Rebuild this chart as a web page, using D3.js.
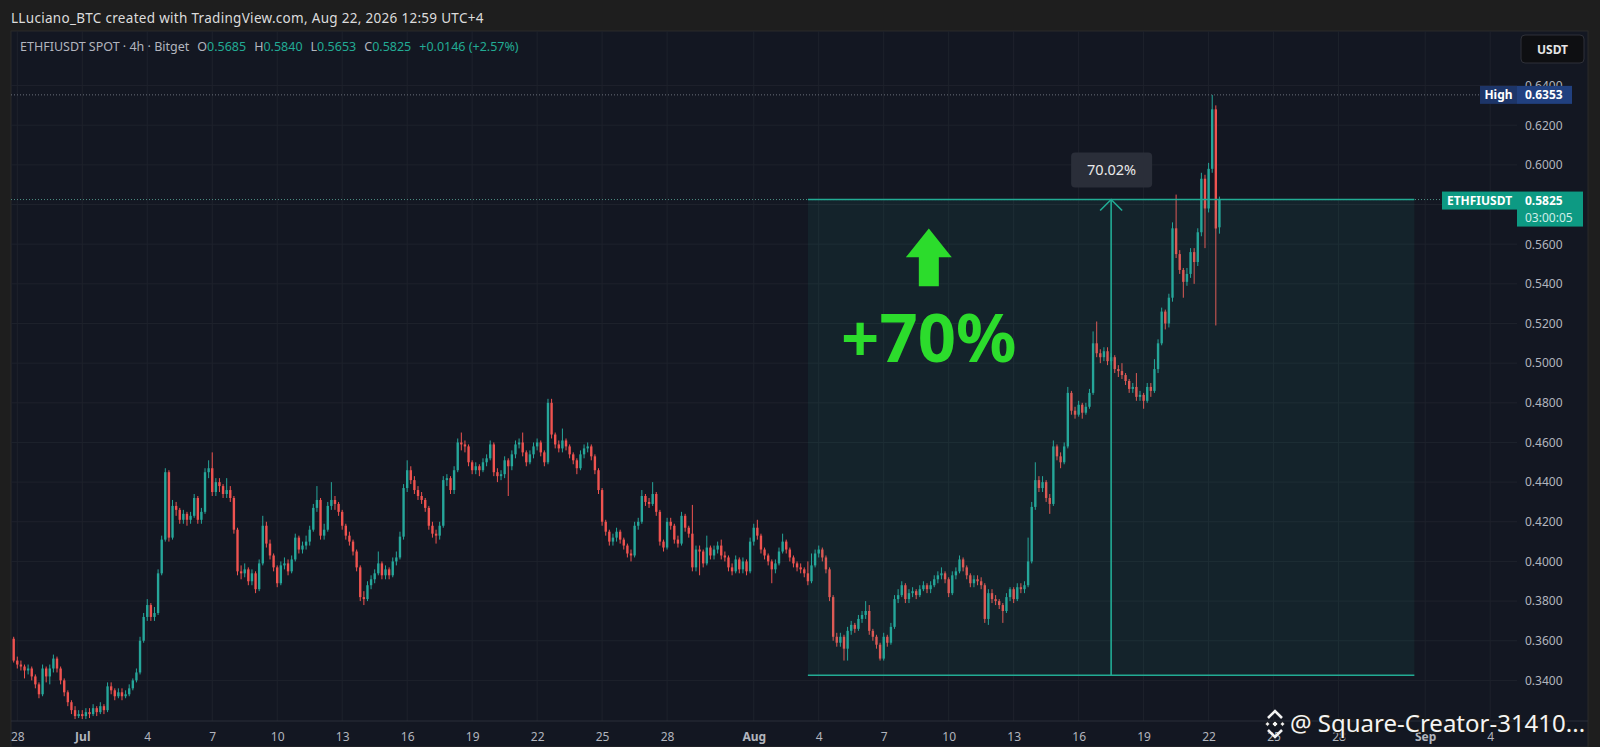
<!DOCTYPE html>
<html><head><meta charset="utf-8">
<script src="https://cdn.jsdelivr.net/npm/d3@7"></script>
<style>html,body{margin:0;padding:0;background:#1e1e1e;overflow:hidden}svg{display:block}</style>
</head><body>
<svg id="c" width="1600" height="747"></svg>
<script>
// ---------- DATA ----------
const symbolTitle = "ETHFIUSDT SPOT · 4h · Bitget";
const headerText = "LLuciano_BTC created with TradingView.com, Aug 22, 2026 12:59 UTC+4";
const firstCandle = Date.UTC(2026,5,27,20);   // chart-local time of first visible 4h candle
const candleHours = 4;
const opens = [.361,
.350,.348,.347,.345,.346,.342, .338,.333,.346,.342,.346,.351, .346,.340,.334,.329,.325,.322,
.323,.322,.324,.323,.326,.324, .327,.325,.337,.335,.332,.334, .332,.333,.336,.340,.344,.360,
.372,.378,.372,.374,.394,.411, .445,.412,.428,.426,.421,.424, .421,.423,.432,.421,.425,.445,
.447,.435,.440,.438,.434,.436, .432,.416,.395,.394,.396,.390, .394,.386,.399,.418,.409,.403,
.397,.389,.398,.399,.395,.401, .412,.406,.408,.410,.416,.427, .431,.413,.416,.428,.431,.429,
.425,.418,.413,.410,.405,.397, .382,.381,.388,.391,.394,.399, .393,.396,.393,.400,.402,.4125,
.437,.446,.441,.436,.433,.431, .427,.418,.414,.413,.418,.441, .442,.436,.446,.460,.459,.458,
.450,.446,.448,.446,.450,.452, .459,.445,.443,.444,.451,.448, .454,.459,.460,.455,.450,.454,
.458,.460,.455,.450,.480,.464, .459,.457,.461,.458,.454,.451, .447,.454,.457,.458,.453,.446,
.436,.420,.415,.410,.412,.415, .411,.408,.404,.403,.418,.420, .433,.430,.429,.434,.425,.410,
.407,.420,.418,.411,.409,.423, .417,.414,.397,.406,.405,.399, .407,.403,.406,.408,.403,.402,
.397,.395,.401,.396,.400,.395, .410,.417,.413,.406,.403,.400, .396,.399,.405,.410,.406,.402,
.399,.397,.396,.394,.390,.398, .404,.406,.402,.396,.382,.362, .359,.362,.356,.365,.368,.366,
.371,.373,.375,.365,.362,.358, .351,.362,.359,.367,.381,.383, .388,.381,.384,.385,.383,.386,
.388,.386,.388,.391,.393,.394, .391,.384,.393,.395,.401,.397, .393,.389,.391,.390,.388,.371,
.384,.381,.380,.378,.375,.382, .386,.381,.387,.386,.388,.400, .4275,.441,.437,.440,.432,.429,
.458,.453,.450,.458,.485,.476, .474,.479,.475,.478,.485,.510, .505,.503,.506,.501,.503,.497,
.496,.494,.491,.487,.488,.483, .484,.481,.488,.486,.497,.510, .526,.520,.533,.568,.555,.547,
.541,.545,.556,.551,.566,.593, .578,.598,.628,.5685];
const highs = [.362,
.352,.350,.348,.348,.347,.343, .339,.348,.347,.348,.353,.352, .347,.341,.335,.330,.327,.325,
.325,.326,.326,.328,.327,.329, .328,.339,.339,.336,.336,.336, .335,.338,.341,.346,.362,.374,
.381,.379,.377,.396,.413,.447, .446,.431,.430,.427,.426,.425, .425,.434,.433,.427,.447,.451,
.455,.442,.442,.439,.442,.438, .433,.417,.398,.399,.397,.396, .395,.401,.423,.420,.411,.404,
.398,.400,.402,.401,.403,.414, .413,.410,.413,.418,.429,.438, .432,.419,.430,.440,.433,.430,
.426,.419,.415,.411,.406,.398, .385,.390,.393,.396,.405,.400, .398,.397,.402,.405,.415,.439,
.451,.448,.443,.438,.435,.432, .428,.420,.416,.420,.443,.444, .443,.448,.462,.465,.461,.459,
.451,.450,.449,.452,.454,.461, .460,.447,.446,.453,.452,.456, .461,.462,.465,.456,.456,.460,
.462,.461,.456,.482,.482,.465, .461,.467,.462,.459,.455,.452, .456,.459,.460,.459,.454,.447,
.437,.421,.416,.414,.417,.416, .412,.409,.406,.420,.422,.436, .434,.432,.440,.435,.426,.411,
.422,.422,.419,.413,.425,.424, .418,.4285,.408,.408,.406,.413, .408,.408,.410,.411,.405,.403,
.399,.403,.402,.402,.401,.412, .419,.421,.414,.407,.404,.401, .401,.407,.414,.411,.407,.403,
.400,.399,.397,.400,.404,.406, .408,.407,.403,.397,.383,.364, .364,.363,.367,.370,.369,.373,
.375,.380,.378,.366,.363,.359, .364,.363,.369,.383,.386,.390, .389,.386,.387,.386,.388,.390,
.389,.390,.393,.395,.397,.395, .392,.395,.397,.403,.402,.398, .394,.393,.393,.392,.389,.386,
.386,.383,.381,.379,.384,.387, .387,.389,.389,.390,.412,.430, .450,.443,.443,.441,.434,.461,
.459,.455,.460,.488,.486,.478, .481,.480,.480,.487,.516,.521, .507,.508,.508,.505,.504,.499,
.500,.495,.492,.490,.495,.486, .485,.490,.490,.502,.512,.528, .527,.535,.571,.585,.557,.548,
.548,.558,.558,.568,.596,.595, .601,.6353,.630,.5840];
const lows = [.349,
.346,.345,.341,.343,.340,.336, .331,.332,.339,.338,.344,.344, .338,.332,.327,.323,.3205,.321,
.3205,.3205,.321,.322,.322,.323, .323,.324,.333,.330,.331,.330, .331,.332,.335,.339,.343,.359,
.370,.370,.370,.373,.393,.410, .410,.411,.423,.419,.419,.418, .419,.422,.419,.419,.424,.442,
.433,.433,.435,.432,.432,.430, .414,.393,.391,.392,.388,.388, .384,.385,.398,.407,.401,.395,
.387,.388,.396,.393,.394,.400, .404,.404,.406,.408,.415,.425, .411,.411,.415,.426,.426,.423,
.416,.411,.408,.403,.395,.380, .378,.380,.386,.389,.393,.391, .391,.391,.392,.398,.401,.411,
.435,.439,.434,.431,.429,.425, .416,.412,.409,.411,.417,.438, .434,.434,.445,.456,.455,.448,
.444,.444,.443,.445,.448,.451, .443,.440,.441,.442,.433,.446, .452,.457,.453,.448,.449,.452,
.456,.453,.448,.449,.462,.457, .455,.455,.456,.452,.449,.444, .446,.452,.455,.451,.444,.434,
.418,.413,.408,.408,.410,.409, .406,.402,.400,.402,.416,.419, .428,.427,.428,.423,.408,.405,
.406,.416,.409,.407,.408,.415, .412,.395,.395,.393,.397,.398, .401,.401,.404,.401,.400,.395,
.393,.394,.394,.394,.393,.394, .408,.411,.404,.401,.398,.389, .394,.398,.404,.404,.400,.397,
.395,.394,.392,.388,.389,.397, .402,.400,.394,.380,.360,.357, .357,.350,.350,.363,.364,.365,
.369,.371,.363,.360,.356,.350, .350,.357,.358,.366,.379,.382, .379,.379,.382,.381,.382,.385,
.384,.384,.387,.389,.391,.389, .382,.383,.391,.394,.395,.391, .387,.387,.388,.386,.369,.368,
.379,.378,.376,.369,.374,.380, .379,.380,.384,.384,.387,.399, .426,.435,.435,.430,.424,.428,
.451,.447,.449,.457,.474,.472, .473,.472,.474,.477,.484,.503, .500,.501,.499,.499,.495,.493,
.492,.489,.485,.485,.481,.481, .477,.480,.483,.485,.495,.509, .517,.518,.531,.553,.545,.533,
.539,.543,.540,.549,.564,.558, .576,.596,.519,.5653];
const closes = [.350,
.348,.347,.345,.346,.342,.338, .333,.346,.342,.346,.351,.346, .340,.334,.329,.325,.322,.323,
.322,.324,.323,.326,.324,.327, .325,.337,.335,.332,.334,.332, .333,.336,.340,.344,.360,.372,
.378,.372,.374,.394,.411,.445, .412,.428,.426,.421,.424,.421, .423,.432,.421,.425,.445,.447,
.435,.440,.438,.434,.436,.432, .416,.395,.394,.396,.390,.394, .386,.399,.418,.409,.403,.397,
.389,.398,.399,.395,.401,.412, .406,.408,.410,.416,.427,.431, .413,.416,.428,.431,.429,.425,
.418,.413,.410,.405,.397,.382, .381,.388,.391,.394,.399,.393, .396,.393,.400,.402,.4125,.437,
.446,.441,.436,.433,.431,.427, .418,.414,.413,.418,.441,.442, .436,.446,.460,.459,.458,.450,
.446,.448,.446,.450,.452,.459, .445,.443,.444,.451,.448,.454, .459,.460,.455,.450,.454,.458,
.460,.455,.450,.480,.464,.459, .457,.461,.458,.454,.451,.447, .454,.457,.458,.453,.446,.436,
.420,.415,.410,.412,.415,.411, .408,.404,.403,.418,.420,.433, .430,.429,.434,.425,.410,.407,
.420,.418,.411,.409,.423,.417, .414,.397,.406,.405,.399,.407, .403,.406,.408,.403,.402,.397,
.395,.401,.396,.400,.395,.410, .417,.413,.406,.403,.400,.396, .399,.405,.410,.406,.402,.399,
.397,.396,.394,.390,.398,.404, .406,.402,.396,.382,.362,.359, .362,.356,.365,.368,.366,.371,
.373,.375,.365,.362,.358,.351, .362,.359,.367,.381,.383,.388, .381,.384,.385,.383,.386,.388,
.386,.388,.391,.393,.394,.391, .384,.393,.395,.401,.397,.393, .389,.391,.390,.388,.371,.384,
.381,.380,.378,.375,.382,.386, .381,.387,.386,.388,.400,.4275, .441,.437,.440,.432,.429,.458,
.453,.450,.458,.485,.476,.474, .479,.475,.478,.485,.510,.505, .503,.506,.501,.503,.497,.496,
.494,.491,.487,.488,.483,.484, .481,.488,.486,.497,.510,.526, .520,.533,.568,.555,.547,.541,
.545,.556,.551,.566,.593,.578, .598,.628,.5679,.5825];

const priceTicks = [0.34,0.36,0.38,0.40,0.42,0.44,0.46,0.48,0.50,0.52,0.54,0.56,0.58,0.60,0.62,0.64];
const hiddenPriceLabels = [0.58];   // covered by the last-price label in the reference
const dateTicks = ["2026-06-28","2026-07-01","2026-07-04","2026-07-07","2026-07-10","2026-07-13","2026-07-16","2026-07-19","2026-07-22","2026-07-25","2026-07-28","2026-08-01","2026-08-04","2026-08-07","2026-08-10","2026-08-13","2026-08-16","2026-08-19","2026-08-22","2026-08-25","2026-08-28","2026-09-01","2026-09-04"];
const dateTickLabels = ["28","Jul","4","7","10","13","16","19","22","25","28","Aug","4","7","10","13","16","19","22","25","28","Sep","4"];
const monthLabels = ["Jul","Aug","Sep"];

const legendOHLC = [["O","0.5685"],["H","0.5840"],["L","0.5653"],["C","0.5825"]];
const legendChange = "+0.0146 (+2.57%)";
const lastPrice = 0.5825, lastLabel = "ETHFIUSDT", countdown = "03:00:05";
const highPrice = 0.6353;
// measure (price range) drawing
const measureStart = "2026-08-03T12:00", measureEnd = "2026-08-31T12:00";
const measureLow = 0.3426, measureHigh = 0.5825, measureText = "70.02%";
// annotation
const noteDate = "2026-08-09T02:00", noteText = "+70%";
const noteArrowTop = 0.5679, noteArrowBase = 0.5388, noteTextBase = 0.5007;
const watermark = "@ Square-Creator-31410...";

// ---------- LAYOUT ----------
const svg = d3.select("#c");
const parseT = s => new Date(s + (s.length>10? ":00Z" : "T00:00:00Z"));
const plot = {left:11, right:1517, top:31, bottom:721};
const x = d3.scaleUtc().domain([parseT("2026-06-28"), parseT("2026-08-22")]).range([17.3, 1208.6]);
const y = d3.scaleLinear().domain([0.34, 0.62]).range([680.4, 125.2]);
const UP = "#26a69a", DOWN = "#ef5350", TEAL = "#22ab94";
const FONT = "'Noto Sans', 'Open Sans', sans-serif";

svg.append("rect").attr("width",1600).attr("height",747).attr("fill","#1e1e1e");
svg.append("rect").attr("x",plot.left).attr("y",plot.top).attr("width",1588-plot.left).attr("height",747-plot.top)
  .attr("fill","#131722").attr("stroke","#2a2a2a");

// header
svg.append("text").attr("x",11).attr("y",22.5).attr("fill","#dcdcdc").attr("font-family",FONT)
  .attr("font-size",13.5).attr("letter-spacing",0.3).text(headerText);

// grid
const grid = svg.append("g");
const tickDates = dateTicks.map(parseT);
grid.selectAll("line.v").data(tickDates).join("line")
  .attr("x1",d=>x(d)).attr("x2",d=>x(d)).attr("y1",plot.top).attr("y2",plot.bottom)
  .attr("stroke","#1e222c").attr("stroke-width",1);
grid.selectAll("line.h").data(priceTicks).join("line")
  .attr("x1",plot.left).attr("x2",plot.right).attr("y1",d=>y(d)).attr("y2",d=>y(d))
  .attr("stroke","#1e222c").attr("stroke-width",1);

// clip
svg.append("clipPath").attr("id","clip").append("rect")
  .attr("x",plot.left).attr("y",plot.top).attr("width",plot.right-plot.left).attr("height",plot.bottom-plot.top);

// dotted lines (high, last)
svg.append("line").attr("x1",plot.left).attr("x2",1480).attr("y1",y(highPrice)).attr("y2",y(highPrice))
  .attr("stroke","#6b6f7a").attr("stroke-dasharray","1,2");
svg.append("line").attr("x1",plot.left).attr("x2",1442).attr("y1",y(lastPrice)).attr("y2",y(lastPrice))
  .attr("stroke","#4f8f86").attr("stroke-dasharray","1,2");

// candles
const stepMs = candleHours*3600*1000;
const data = closes.map((c,i)=>({t:new Date(firstCandle+i*stepMs), o:opens[i], h:highs[i], l:lows[i], c}));
const step = x(new Date(firstCandle+stepMs)) - x(new Date(firstCandle));
const bw = step*0.66;
const cg = svg.append("g").attr("clip-path","url(#clip)");
cg.selectAll("line.w").data(data).join("line")
  .attr("x1",d=>x(d.t)).attr("x2",d=>x(d.t)).attr("y1",d=>y(d.h)).attr("y2",d=>y(d.l))
  .attr("stroke",d=>d.c>=d.o?UP:DOWN).attr("stroke-width",1);
cg.selectAll("rect.b").data(data).join("rect")
  .attr("x",d=>x(d.t)-bw/2).attr("width",bw)
  .attr("y",d=>y(Math.max(d.o,d.c))).attr("height",d=>Math.max(1,Math.abs(y(d.o)-y(d.c))))
  .attr("fill",d=>d.c>=d.o?UP:DOWN);

// measure box
const mx0 = x(parseT(measureStart)), mx1 = x(parseT(measureEnd));
const myT = y(measureHigh), myB = y(measureLow), mxc = (mx0+mx1)/2;
svg.append("rect").attr("x",mx0).attr("y",myT).attr("width",mx1-mx0).attr("height",myB-myT)
  .attr("fill","rgba(34,171,148,0.09)");
[myT,myB].forEach(v=>svg.append("line").attr("x1",mx0).attr("x2",mx1).attr("y1",v).attr("y2",v)
  .attr("stroke",TEAL).attr("stroke-width",1.6));
svg.append("line").attr("x1",mxc).attr("x2",mxc).attr("y1",myB).attr("y2",myT).attr("stroke",TEAL).attr("stroke-width",1.6);
svg.append("path").attr("d",`M${mxc-11},${myT+11}L${mxc},${myT}L${mxc+11},${myT+11}`)
  .attr("fill","none").attr("stroke",TEAL).attr("stroke-width",1.6);
svg.append("rect").attr("x",mxc-40).attr("y",myT-47).attr("width",81).attr("height",35).attr("rx",4)
  .attr("fill","#2a2e39");
svg.append("text").attr("x",mxc+0.5).attr("y",myT-24.5).attr("text-anchor","middle").attr("fill","#e9e9ea")
  .attr("font-family",FONT).attr("font-size",14.5).text(measureText);

// annotation arrow and text
const nx = x(parseT(noteDate)), GREEN = "#2cdc2c";
const aTop = y(noteArrowTop), aBase = y(noteArrowBase), headB = aTop + (aBase-aTop)*0.5;
svg.append("path").attr("d",`M${nx},${aTop}L${nx+23},${headB}L${nx+10},${headB}L${nx+10},${aBase}L${nx-10},${aBase}L${nx-10},${headB}L${nx-23},${headB}Z`)
  .attr("fill",GREEN);
svg.append("text").attr("x",nx).attr("y",y(noteTextBase)).attr("text-anchor","middle").attr("fill",GREEN)
  .attr("font-family",FONT).attr("font-weight",700).attr("font-size",67).text(noteText);

// legend
const lg = svg.append("text").attr("x",20).attr("y",51).attr("font-family",FONT).attr("font-size",12.5).attr("fill","#b2b5be");
lg.append("tspan").text(symbolTitle);
legendOHLC.forEach(([k,v])=>{ lg.append("tspan").attr("dx",8).text(k); lg.append("tspan").attr("fill",TEAL).text(v); });
lg.append("tspan").attr("dx",8).attr("fill",TEAL).text(legendChange);

// price axis
const ya = svg.append("g").attr("transform",`translate(${plot.right},0)`)
  .call(d3.axisRight(y).tickValues(priceTicks).tickFormat(d3.format(".4f")).tickSize(0).tickPadding(8));
ya.select(".domain").remove();
ya.selectAll(".tick").filter(d=>hiddenPriceLabels.some(h=>Math.abs(h-d)<1e-9)).remove();
ya.selectAll("text").attr("fill","#b2b5be").attr("font-family",FONT).attr("font-size",12);

// time axis
svg.append("line").attr("x1",plot.left).attr("x2",1588).attr("y1",plot.bottom).attr("y2",plot.bottom).attr("stroke","#2a2e39");
const xa = svg.append("g").attr("transform",`translate(0,${plot.bottom})`)
  .call(d3.axisBottom(x).tickValues(tickDates).tickFormat((d,i)=>dateTickLabels[i]).tickSize(0).tickPadding(11));
xa.select(".domain").remove();
xa.selectAll("text").attr("fill","#b2b5be").attr("font-family",FONT).attr("font-size",12)
  .attr("font-weight",(d,i)=>monthLabels.includes(dateTickLabels[i])?700:400);

// USDT button
svg.append("rect").attr("x",1521).attr("y",35).attr("width",63).attr("height",28).attr("rx",4)
  .attr("fill","#0e0f12").attr("stroke","#2e3038");
svg.append("text").attr("x",1552.5).attr("y",54).attr("text-anchor","middle").attr("fill","#e6e6e6")
  .attr("font-family",FONT).attr("font-size",12).attr("font-weight",700).text("USDT");

// High label
const hy = y(highPrice);
svg.append("rect").attr("x",1480).attr("y",hy-9).attr("width",37).attr("height",18).attr("fill","#1d3568");
svg.append("rect").attr("x",1517).attr("y",hy-9).attr("width",55).attr("height",18).attr("fill","#21407f");
svg.append("text").attr("x",1498.5).attr("y",hy+4.5).attr("text-anchor","middle").attr("fill","#ffffff")
  .attr("font-family",FONT).attr("font-size",12).attr("font-weight",700).text("High");
svg.append("text").attr("x",1525).attr("y",hy+4.5).attr("fill","#ffffff")
  .attr("font-family",FONT).attr("font-size",12).attr("font-weight",700).text(highPrice.toFixed(4));

// last price label
const ly = y(lastPrice);
svg.append("rect").attr("x",1442).attr("y",ly-8).attr("width",75).attr("height",18).attr("fill","#0d9a83");
svg.append("rect").attr("x",1517).attr("y",ly-8).attr("width",66).attr("height",35).attr("fill","#0d9a83");
svg.append("text").attr("x",1479.5).attr("y",ly+5.5).attr("text-anchor","middle").attr("fill","#ffffff")
  .attr("font-family",FONT).attr("font-size",12).attr("font-weight",700).text(lastLabel);
svg.append("text").attr("x",1525).attr("y",ly+5.5).attr("fill","#ffffff")
  .attr("font-family",FONT).attr("font-size",12).attr("font-weight",700).text(lastPrice.toFixed(4));
svg.append("text").attr("x",1525).attr("y",ly+22).attr("fill","#cfeee8")
  .attr("font-family",FONT).attr("font-size",12).text(countdown);

// watermark
const wm = svg.append("g");
const ix = 1275, iy = 724;
const dm = (cx,cy,r)=>`M${cx},${cy-r}L${cx+r},${cy}L${cx},${cy+r}L${cx-r},${cy}Z`;
wm.append("path").attr("d",dm(ix,iy,3)+dm(ix-7.5,iy,2.3)+dm(ix+7.5,iy,2.3))
  .attr("fill","#f2f2f2").attr("stroke","#222").attr("stroke-width",0.8);
wm.append("path").attr("d",`M${ix-7},${iy-6}L${ix},${iy-13}L${ix+7},${iy-6}M${ix-7},${iy+6}L${ix},${iy+13}L${ix+7},${iy+6}`)
  .attr("fill","none").attr("stroke","#f2f2f2").attr("stroke-width",2.6);
wm.append("text").attr("x",1290).attr("y",732).attr("fill","#f4f4f4")
  .attr("font-family",FONT).attr("font-size",24)
  .attr("stroke","#1a1a1a").attr("stroke-width",2.5).attr("paint-order","stroke").text(watermark);
</script>
</body></html>
